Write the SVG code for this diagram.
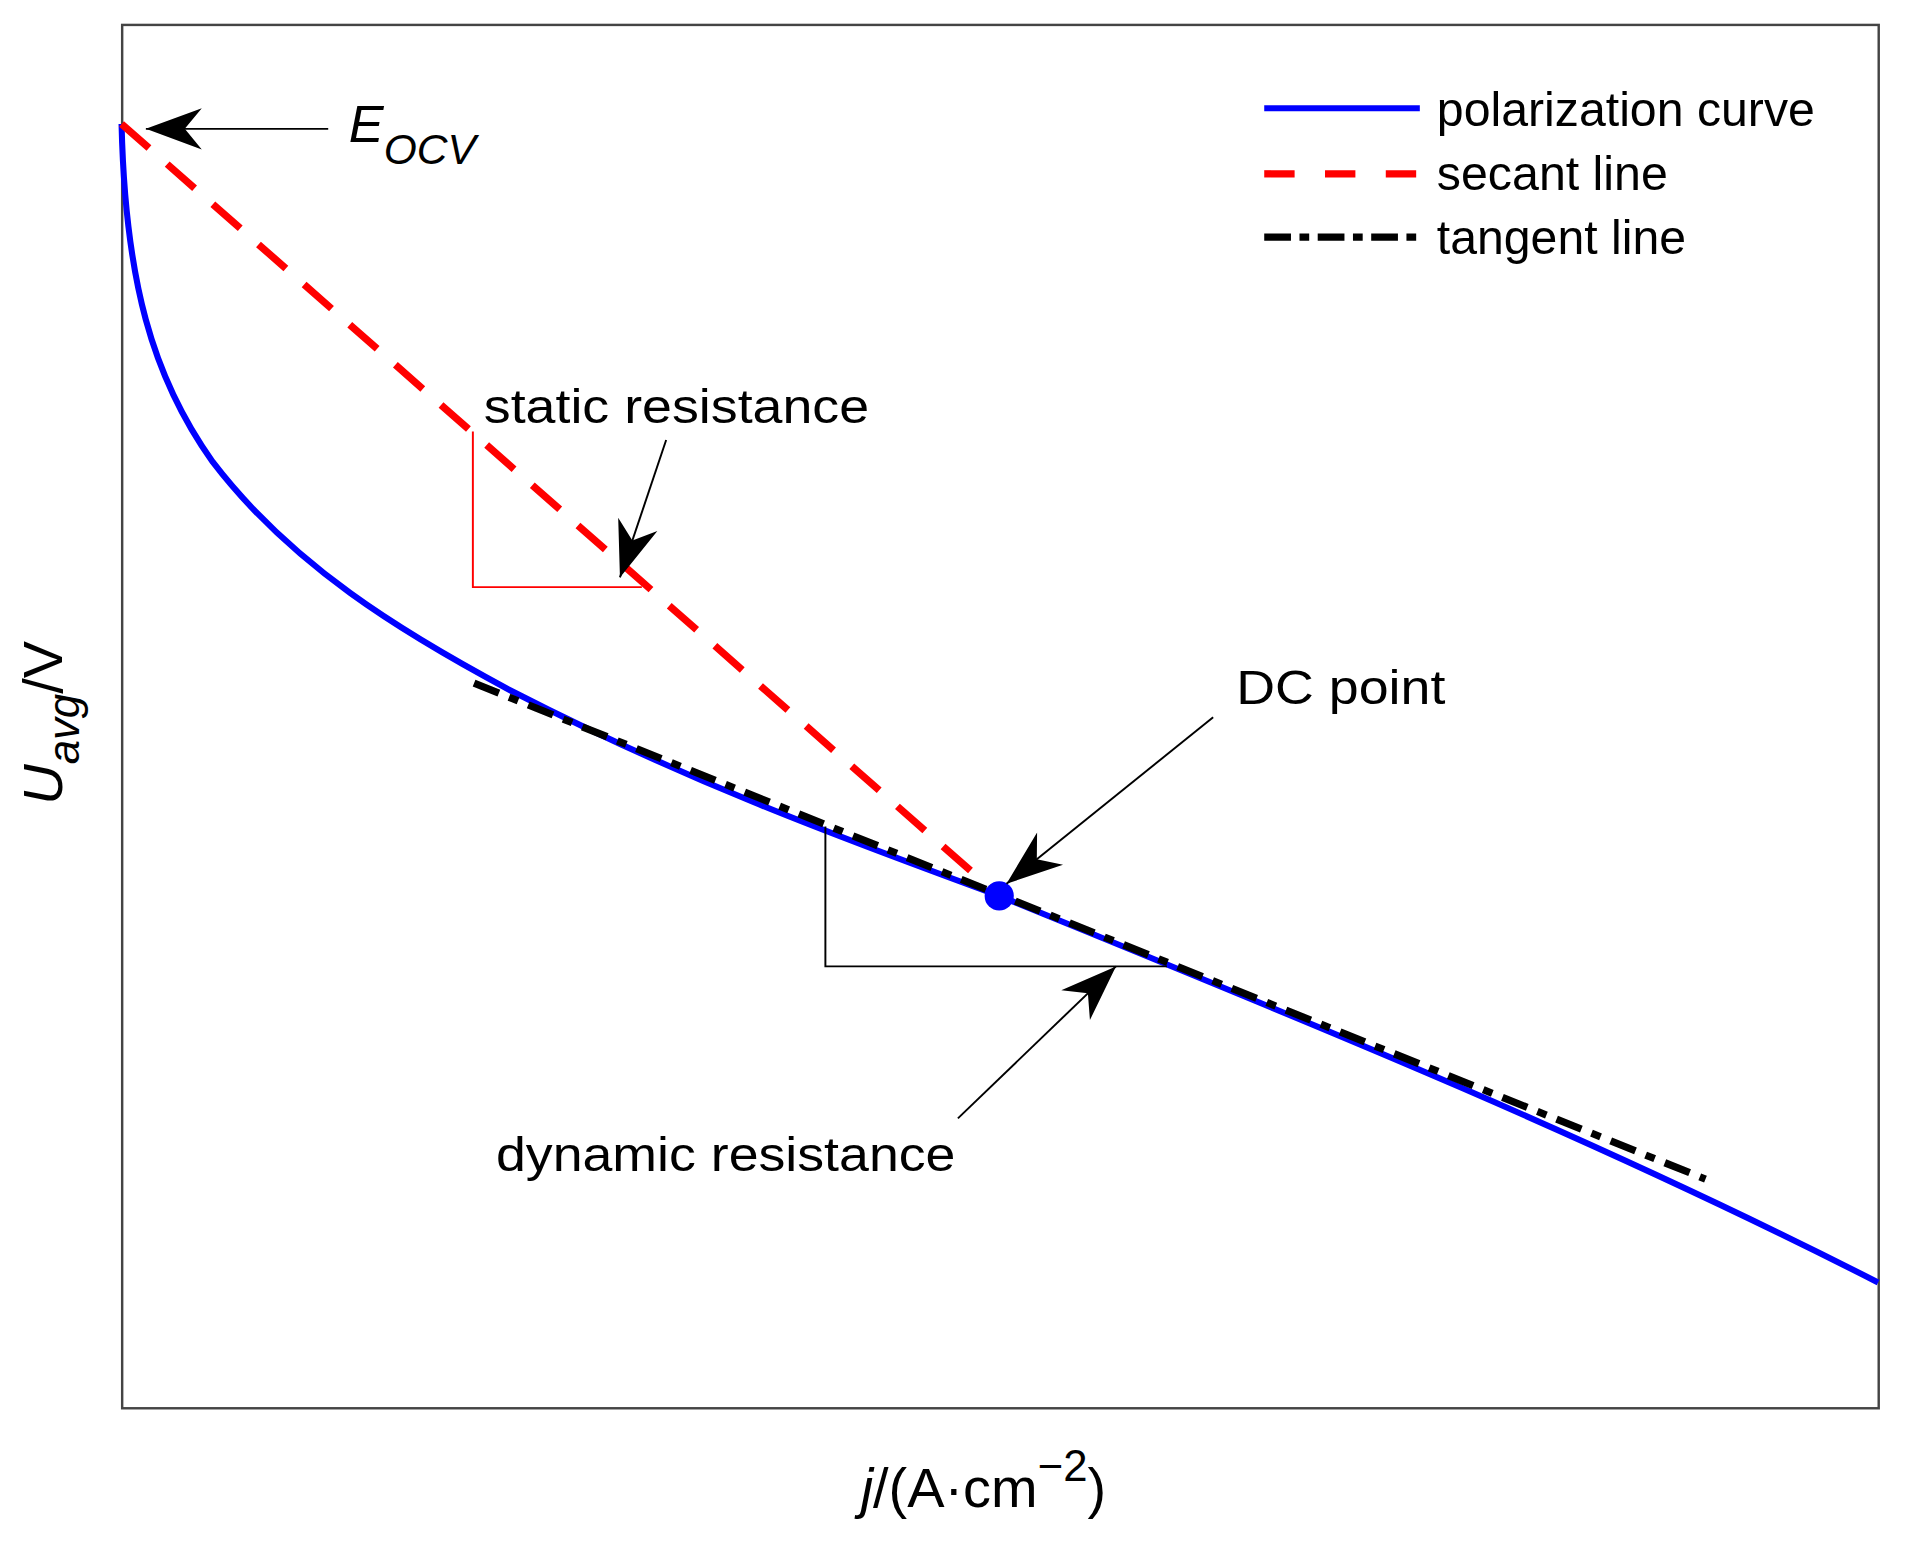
<svg xmlns="http://www.w3.org/2000/svg" width="1906" height="1544" viewBox="0 0 1906 1544">
<defs>
<marker id="ah" markerUnits="userSpaceOnUse" markerWidth="60" markerHeight="40" viewBox="-50 -20 52 40" refX="0" refY="0" orient="auto">
<path d="M0,0 L-46,-17 L-32,0 L-46,17 Z" fill="#000"/>
</marker>
<style>
text{font-family:"Liberation Sans",Arial,sans-serif;fill:#000}
.lbl{font-size:40px}
.ann{stroke:#000;stroke-width:1.6;fill:none}
</style>
</defs>
<rect width="1906" height="1544" fill="#fff"/>
<g transform="scale(1.2156)">
<rect id="frame" x="100.5" y="20.5" width="1445" height="1138" fill="none" stroke="#444" stroke-width="2"/>
<g id="curves">
<path id="polarization" d="M100,102 C103,230 125,310 175,380 C240,465 330,520 420,568 C560,640 680,685 822,737 C1050,830 1300,930 1545,1055" fill="none" stroke="#0000ff" stroke-width="5"/>
<line id="secant" x1="100" y1="102" x2="822" y2="737" stroke="#ff0000" stroke-width="6" stroke-dasharray="30,20"/>
<line id="tangent" x1="390" y1="562" x2="1403" y2="970" stroke="#000" stroke-width="6" stroke-dasharray="22,9,8,9"/>
<circle id="dcpoint" cx="822" cy="737" r="12" fill="#0000ff"/>
<polyline id="static-tri" points="389,355 389,483 528,483" fill="none" stroke="#ff0000" stroke-width="1.6"/>
<polyline id="dyn-tri" points="679,680 679,795 960,795" fill="none" stroke="#000" stroke-width="1.6"/>
</g>
<g id="connectors">
<line class="ann" x1="270" y1="106" x2="120" y2="106" marker-end="url(#ah)"/>
<line class="ann" x1="548" y1="362" x2="510" y2="475" marker-end="url(#ah)"/>
<line class="ann" x1="998" y1="590" x2="828" y2="727" marker-end="url(#ah)"/>
<line class="ann" x1="788" y1="920" x2="918" y2="795" marker-end="url(#ah)"/>
</g>
<g id="label-eocv"><text x="287" y="117" font-size="43" font-style="italic">E<tspan font-size="35" dy="18">OCV</tspan></text></g>
<g id="label-static"><text class="lbl" x="398" y="348" textLength="317" lengthAdjust="spacingAndGlyphs">static resistance</text></g>
<g id="label-dc"><text class="lbl" x="1017" y="579" textLength="172" lengthAdjust="spacingAndGlyphs">DC point</text></g>
<g id="label-dynamic"><text class="lbl" x="408" y="963" textLength="378" lengthAdjust="spacingAndGlyphs">dynamic resistance</text></g>
<g id="legend">
<line x1="1040" y1="89" x2="1168" y2="89" stroke="#0000ff" stroke-width="5"/>
<line x1="1040" y1="143" x2="1168" y2="143" stroke="#ff0000" stroke-width="6" stroke-dasharray="25,25"/>
<line x1="1040" y1="195" x2="1168" y2="195" stroke="#000" stroke-width="6" stroke-dasharray="22,7,8,7"/>
<text class="lbl" x="1182" y="104" textLength="311" lengthAdjust="spacingAndGlyphs">polarization curve</text>
<text class="lbl" x="1182" y="156" textLength="190" lengthAdjust="spacingAndGlyphs">secant line</text>
<text class="lbl" x="1182" y="209" textLength="205" lengthAdjust="spacingAndGlyphs">tangent line</text>
</g>
<g id="xlabel"><text x="708" y="1240" font-size="46"><tspan font-style="italic">j</tspan>/(A·cm<tspan font-size="36" dy="-22">−2</tspan><tspan dy="22">)</tspan></text></g>
<g id="ylabel"><text transform="translate(51,662) rotate(-90)" font-size="46"><tspan font-style="italic">U</tspan><tspan font-style="italic" font-size="36" dy="14">avg</tspan><tspan dy="-14">/V</tspan></text></g>
</g>
</svg>
